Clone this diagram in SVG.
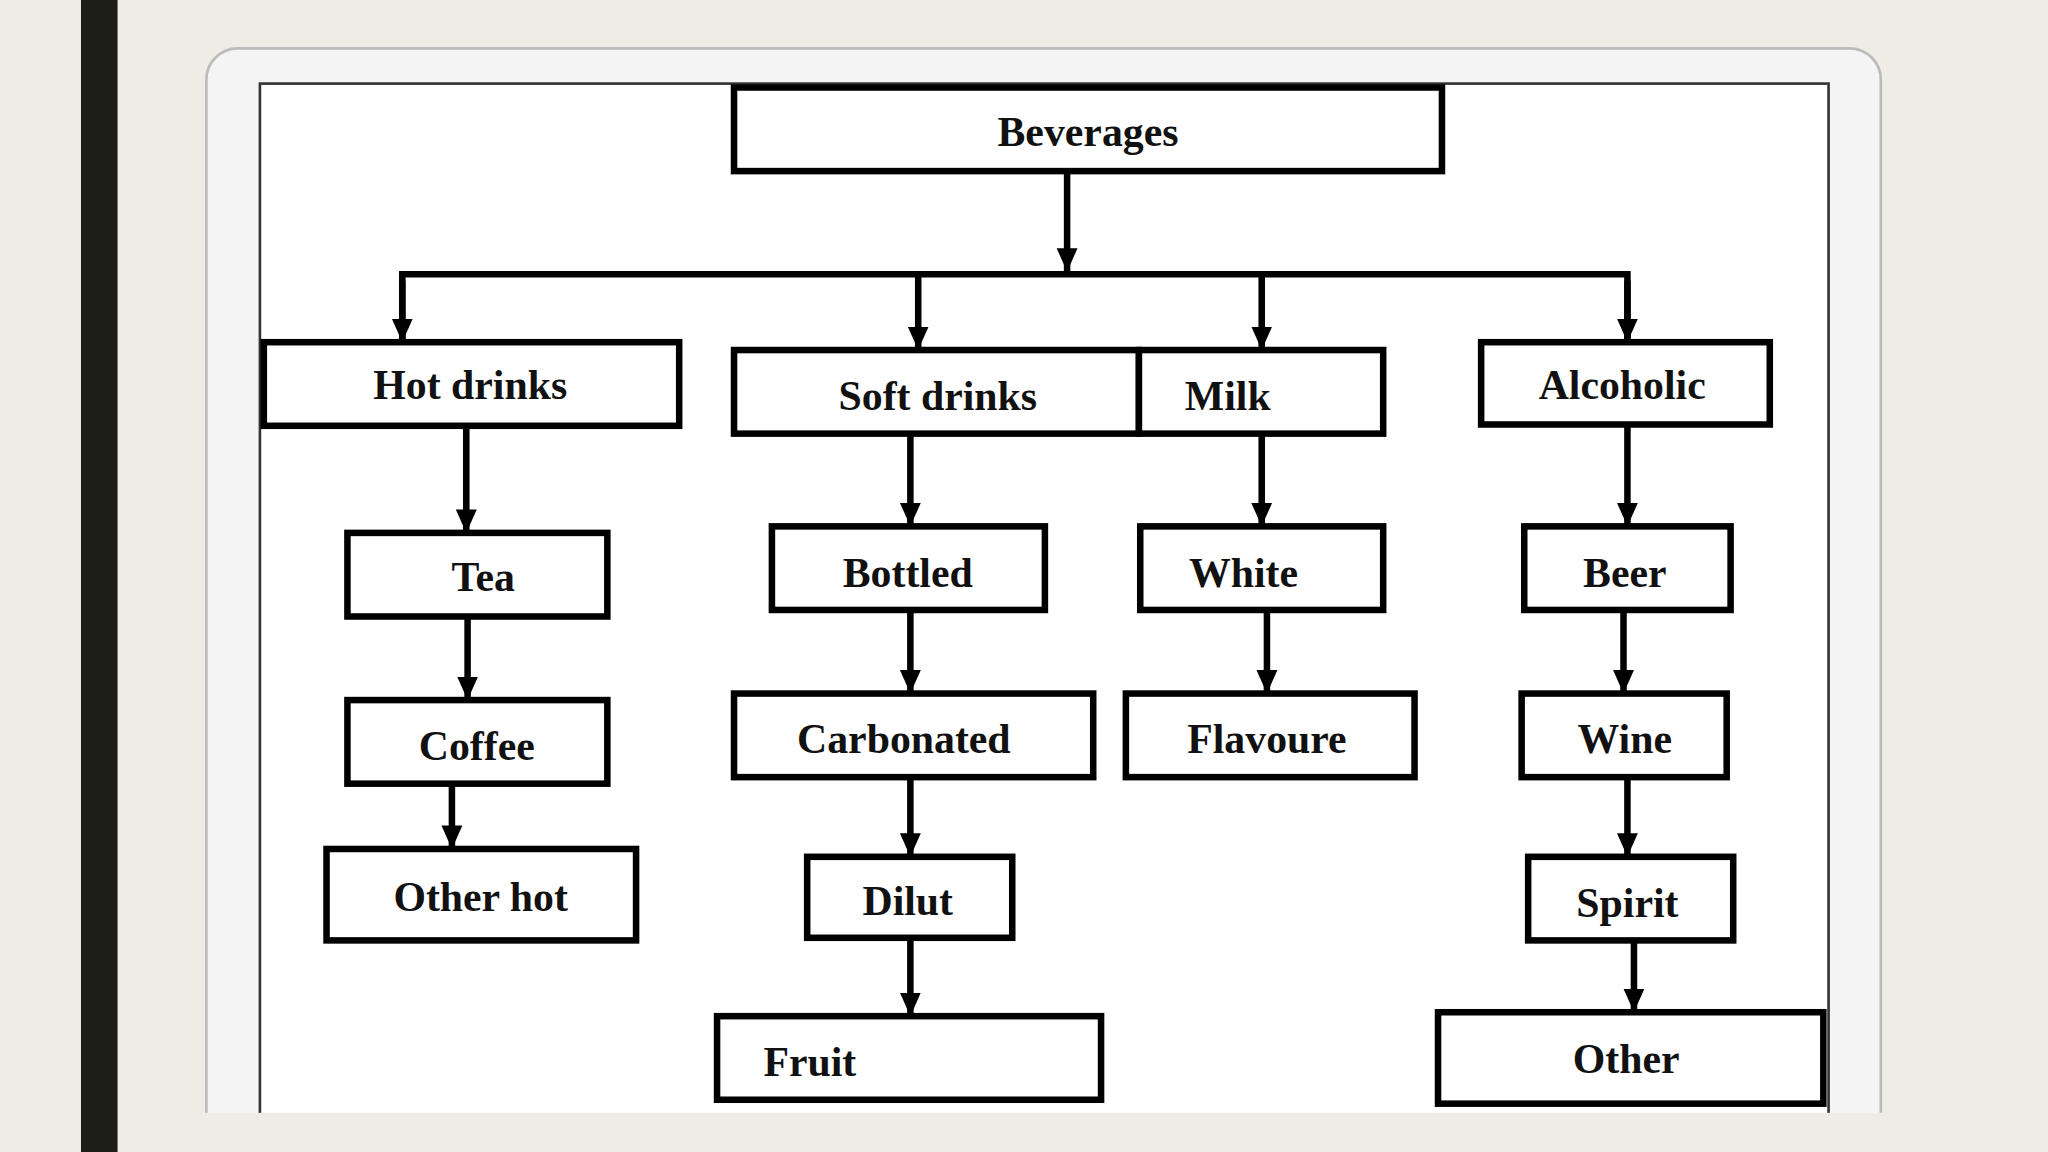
<svg xmlns="http://www.w3.org/2000/svg" width="2048" height="1152" viewBox="0 0 2048 1152">
<defs>
<marker id="ah" markerUnits="userSpaceOnUse" markerWidth="20" markerHeight="20" viewBox="0 0 20 20" refX="18" refY="10" orient="auto"><path d="M0,2 L18,10 L0,18 Z" fill="#000"/></marker>
</defs>
<style>
.b{fill:#fff;stroke:#000;stroke-width:5}
.t{font-family:"Liberation Serif",serif;font-weight:bold;font-size:32px;fill:#111;text-anchor:middle;dominant-baseline:central}
.c{fill:none;stroke:#000;stroke-width:5}
</style>
<rect width="2048" height="1152" fill="#efebe5"/>
<g transform="scale(1.30612)">
<rect x="62" y="0" width="28" height="882" fill="#1e1e18"/>
<rect x="158" y="37" width="1282" height="860" rx="24" fill="#f4f4f4" stroke="#bbb" stroke-width="2"/>
<rect x="199" y="64" width="1201" height="830" fill="#fff" stroke="#333" stroke-width="2"/>
<rect x="150" y="852" width="1300" height="40" fill="#efebe5"/>
<g id="connectors">
<path class="c" d="M817,131 V208" marker-end="url(#ah)"/>
<path class="c" d="M308,262 V210 H1246 V262"/>
<path class="c" d="M308,215 V262" marker-end="url(#ah)"/>
<path class="c" d="M703,212 V268" marker-end="url(#ah)"/>
<path class="c" d="M966,212 V268" marker-end="url(#ah)"/>
<path class="c" d="M1246,215 V262" marker-end="url(#ah)"/>
<path class="c" d="M357,326 V408" marker-end="url(#ah)"/>
<path class="c" d="M358,472 V536" marker-end="url(#ah)"/>
<path class="c" d="M346,600 V650" marker-end="url(#ah)"/>
<path class="c" d="M697,332 V403" marker-end="url(#ah)"/>
<path class="c" d="M697,467 V531" marker-end="url(#ah)"/>
<path class="c" d="M697,595 V656" marker-end="url(#ah)"/>
<path class="c" d="M697,718 V778" marker-end="url(#ah)"/>
<path class="c" d="M966,332 V403" marker-end="url(#ah)"/>
<path class="c" d="M970,467 V531" marker-end="url(#ah)"/>
<path class="c" d="M1246,325 V403" marker-end="url(#ah)"/>
<path class="c" d="M1243,467 V531" marker-end="url(#ah)"/>
<path class="c" d="M1246,595 V656" marker-end="url(#ah)"/>
<path class="c" d="M1251,720 V775" marker-end="url(#ah)"/>
</g>
<g id="beverages"><rect class="b" x="562" y="67" width="542" height="64"/><text class="t" x="833" y="101">Beverages</text></g>
<g id="hot"><rect class="b" x="202" y="262" width="318" height="64"/><text class="t" x="360" y="295">Hot drinks</text></g>
<g id="soft"><rect class="b" x="562" y="268" width="310" height="64"/><text class="t" x="718" y="303">Soft drinks</text></g>
<g id="milk"><rect class="b" x="872" y="268" width="187" height="64"/><text class="t" x="940" y="303">Milk</text></g>
<g id="alcoholic"><rect class="b" x="1134" y="262" width="221" height="63"/><text class="t" x="1242" y="295">Alcoholic</text></g>
<g id="tea"><rect class="b" x="266" y="408" width="199" height="64"/><text class="t" x="370" y="442">Tea</text></g>
<g id="coffee"><rect class="b" x="266" y="536" width="199" height="64"/><text class="t" x="365" y="571">Coffee</text></g>
<g id="otherhot"><rect class="b" x="250" y="650" width="237" height="70"/><text class="t" x="368" y="687">Other hot</text></g>
<g id="bottled"><rect class="b" x="591" y="403" width="209" height="64"/><text class="t" x="695" y="439">Bottled</text></g>
<g id="carbonated"><rect class="b" x="562" y="531" width="275" height="64"/><text class="t" x="692" y="566">Carbonated</text></g>
<g id="dilut"><rect class="b" x="618" y="656" width="157" height="62"/><text class="t" x="695" y="690">Dilut</text></g>
<g id="fruit"><rect class="b" x="549" y="778" width="294" height="64"/><text class="t" x="620" y="813">Fruit</text></g>
<g id="white"><rect class="b" x="873" y="403" width="186" height="64"/><text class="t" x="952" y="439">White</text></g>
<g id="flavoure"><rect class="b" x="862" y="531" width="221" height="64"/><text class="t" x="970" y="566">Flavoure</text></g>
<g id="beer"><rect class="b" x="1167" y="403" width="158" height="64"/><text class="t" x="1244" y="439">Beer</text></g>
<g id="wine"><rect class="b" x="1165" y="531" width="157" height="64"/><text class="t" x="1244" y="566">Wine</text></g>
<g id="spirit"><rect class="b" x="1170" y="656" width="157" height="64"/><text class="t" x="1246" y="691">Spirit</text></g>
<g id="other"><rect class="b" x="1101" y="775" width="295" height="70"/><text class="t" x="1245" y="811">Other</text></g>
</g>
</svg>
